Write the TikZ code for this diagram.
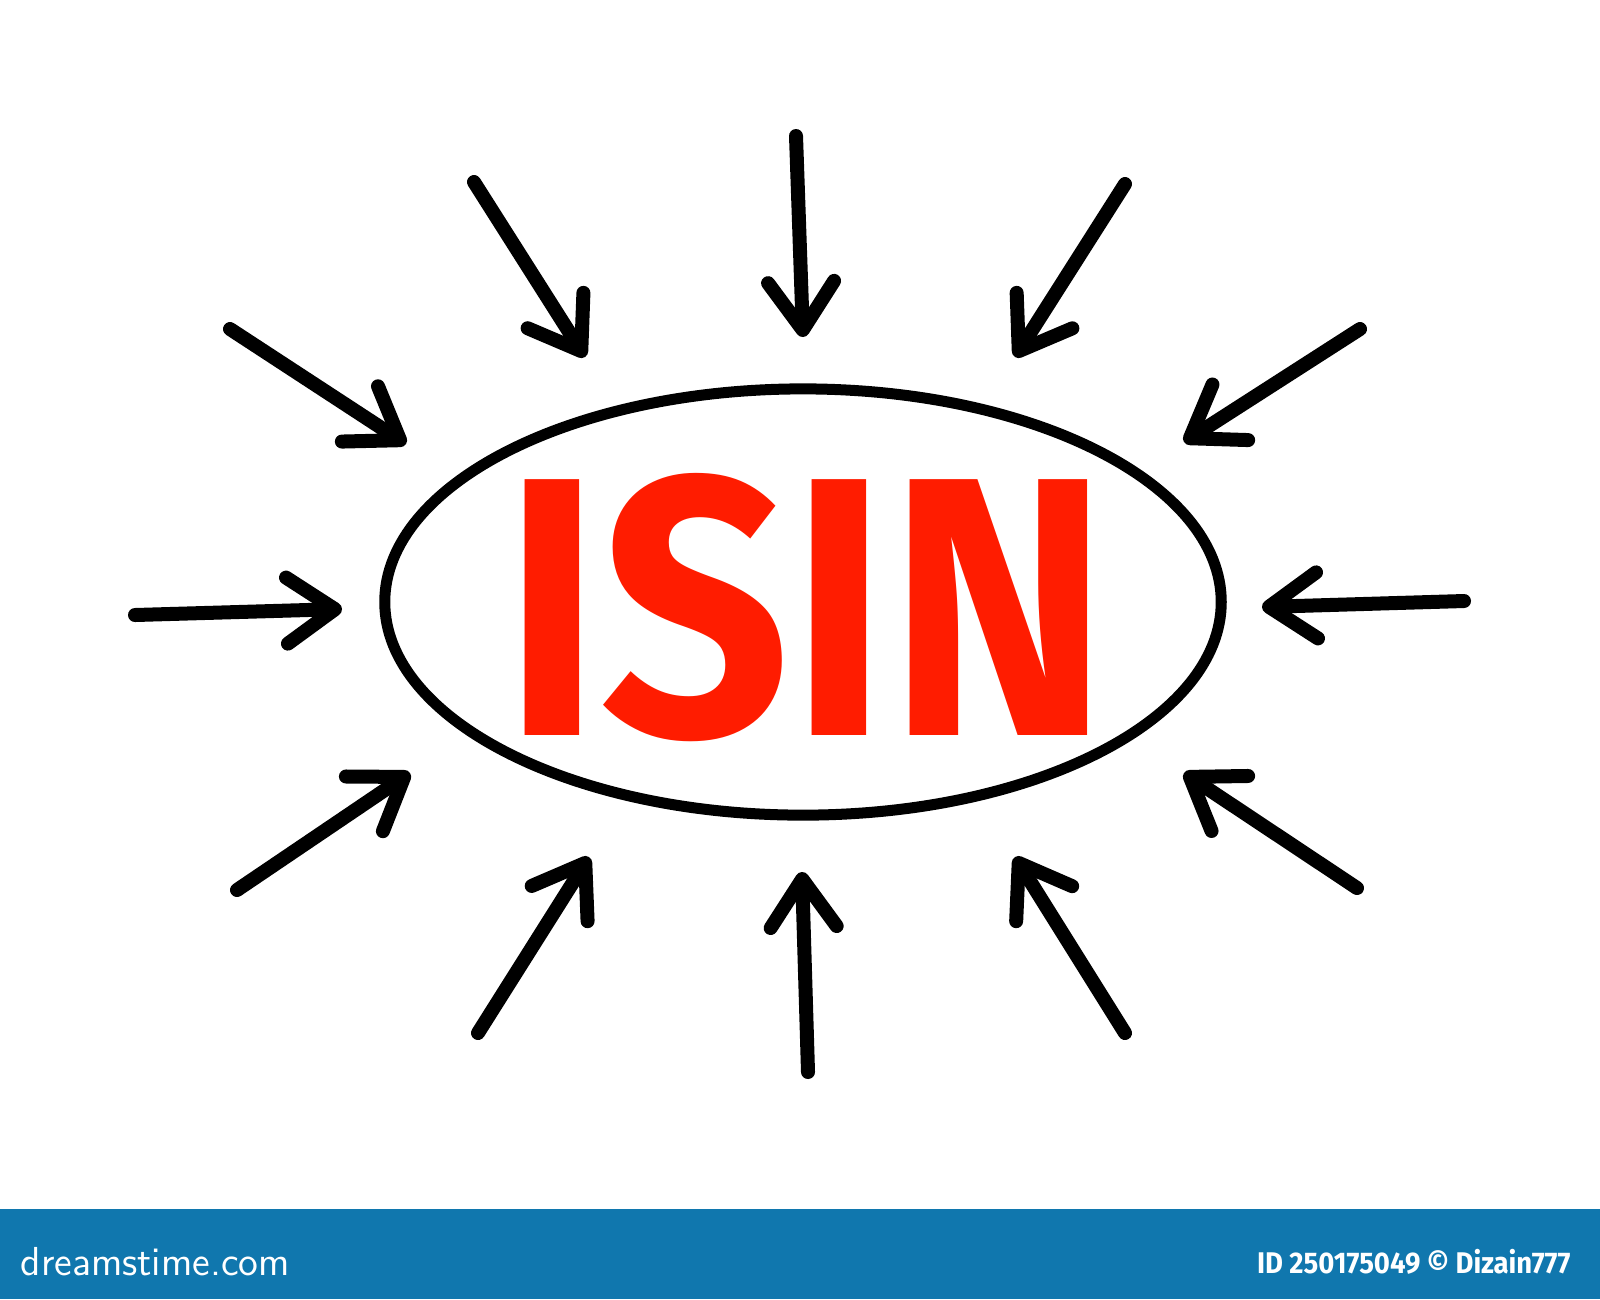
\documentclass[tikz,border=0pt]{standalone}
\usepackage{fontspec}
\setmainfont{Fira Sans}
\usetikzlibrary{arrows.meta,shapes.geometric}
\definecolor{isinred}{RGB}{255,28,0}
\definecolor{bannerblue}{RGB}{16,119,174}
\begin{document}
\begin{tikzpicture}[x=0.01cm,y=-0.01cm,
  arr/.style={line width=0.14cm, line cap=round, line join=round,
    -{Straight Barb[length=0.48cm,width=0.66cm,line cap=round,line join=round]}},
  oval/.style={draw, ellipse, line width=0.11cm, minimum width=8.36cm, minimum height=4.26cm, inner sep=0pt},
  bigword/.style={text=isinred, font=\fontsize{105}{105}\selectfont\bfseries, inner sep=0pt, xscale=0.9},
  bantext/.style={text=white, inner sep=0pt}]
\useasboundingbox (0,0) rectangle (1600,1299);
\fill[white] (0,0) rectangle (1600,1299);
% ellipse and word
\node[oval] (ell) at (803,602) {};
\node[bigword] (isin) at (806,608) {ISIN};
% arrow end points
\coordinate (s1) at (796,136);  \coordinate (e1) at (803,337);
\coordinate (s2) at (474,182);  \coordinate (e2) at (585,357);
\coordinate (s3) at (1125,184); \coordinate (e3) at (1015,357);
\coordinate (s4) at (230,329);  \coordinate (e4) at (406,444);
\coordinate (s5) at (1360,329); \coordinate (e5) at (1184,442);
\coordinate (s6) at (135,615);  \coordinate (e6) at (342,609);
\coordinate (s7) at (1464,601); \coordinate (e7) at (1262,607);
\coordinate (s8) at (237,890);  \coordinate (e8) at (410,773);
\coordinate (s9) at (1357,888); \coordinate (e9) at (1184,773);
\coordinate (s10) at (478,1033); \coordinate (e10) at (589,857);
\coordinate (s11) at (808,1072); \coordinate (e11) at (802,872);
\coordinate (s12) at (1125,1033); \coordinate (e12) at (1015,857);
\foreach \i in {1,...,12} {\draw[arr] (s\i) -- (e\i);}
% banner
\fill[bannerblue] (0,1209) rectangle (1600,1299);
\node[bantext, anchor=west, font=\fontsize{11.5}{11.5}\selectfont\sffamily] (logo) at (20,1262) {dreamstime.com};
\node[bantext, anchor=east, font=\fontsize{8.5}{8.5}\selectfont\bfseries, xscale=0.92] (credit) at (1571,1262) {ID 250175049 © Dizain777};
\end{tikzpicture}
\end{document}
